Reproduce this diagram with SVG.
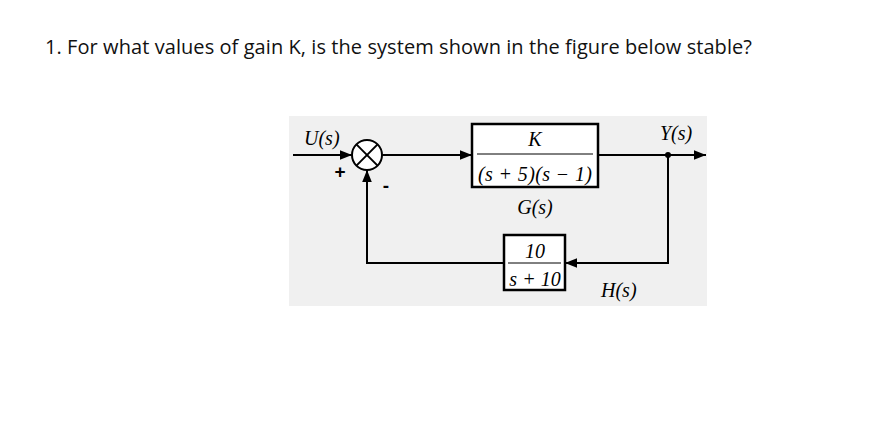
<svg xmlns="http://www.w3.org/2000/svg" width="890" height="442" viewBox="0 0 890 442">
<defs>
<style>
.t{font-family:"Liberation Serif",serif;font-style:italic;font-size:20px;fill:#000}
.ln{stroke:#000;stroke-width:2;fill:none}
.bx{stroke:#000;stroke-width:2.5;fill:#fff}
</style>
<marker id="b" viewBox="0 0 10 10" refX="10" refY="5" markerWidth="12" markerHeight="12" orient="auto" markerUnits="userSpaceOnUse"><path d="M0,1L10,5L0,9z" fill="#000"/></marker>
</defs>
<rect width="890" height="442" fill="#fff"/>
<text x="45" y="54" font-family="Open Sans,sans-serif" font-size="20" textLength="707" fill="#111">1. For what values of gain K, is the system shown in the figure below stable?</text>
<rect x="289" y="116" width="418" height="190" fill="#f0f0f0"/>
<g id="connectors">
<line class="ln" x1="293" y1="155" x2="352" y2="155" marker-end="url(#b)"/>
<line class="ln" x1="382" y1="155" x2="472" y2="155" marker-end="url(#b)"/>
<line class="ln" x1="598" y1="155" x2="706" y2="155" marker-end="url(#b)"/>
<polyline class="ln" points="668,155 668,263 565,263" marker-end="url(#b)"/>
<polyline class="ln" points="504,263 367,263 367,170" marker-end="url(#b)"/>
<circle cx="668" cy="155" r="3" fill="#000"/>
</g>
<g id="sum">
<circle cx="367" cy="155" r="15" fill="#fff" stroke="#000" stroke-width="2"/>
<line class="ln" x1="356.4" y1="144.4" x2="377.6" y2="165.6"/>
<line class="ln" x1="377.6" y1="144.4" x2="356.4" y2="165.6"/>
<text x="340" y="178" font-family="Liberation Sans,sans-serif" font-weight="bold" font-size="19" text-anchor="middle">+</text>
<text x="386" y="192" font-family="Liberation Sans,sans-serif" font-weight="bold" font-size="19" text-anchor="middle">-</text>
<text class="t" x="304" y="145">U(s)</text>
</g>
<g id="G">
<rect class="bx" x="472" y="124" width="126" height="63"/>
<line x1="477" y1="154" x2="593" y2="154" stroke="#000" stroke-width="1"/>
<text class="t" x="535" y="146" text-anchor="middle">K</text>
<text class="t" x="478" y="181" font-size="21" textLength="114">(s + 5)(s − 1)</text>
<text class="t" x="535" y="214" text-anchor="middle">G(s)</text>
</g>
<g id="H">
<rect class="bx" x="504" y="235" width="61" height="55"/>
<line x1="508" y1="263" x2="561" y2="263" stroke="#000" stroke-width="1"/>
<text class="t" x="535" y="258" text-anchor="middle">10</text>
<text class="t" x="535" y="286" text-anchor="middle">s + 10</text>
<text class="t" x="601" y="297">H(s)</text>
</g>
<text class="t" x="660" y="140">Y(s)</text>
</svg>
